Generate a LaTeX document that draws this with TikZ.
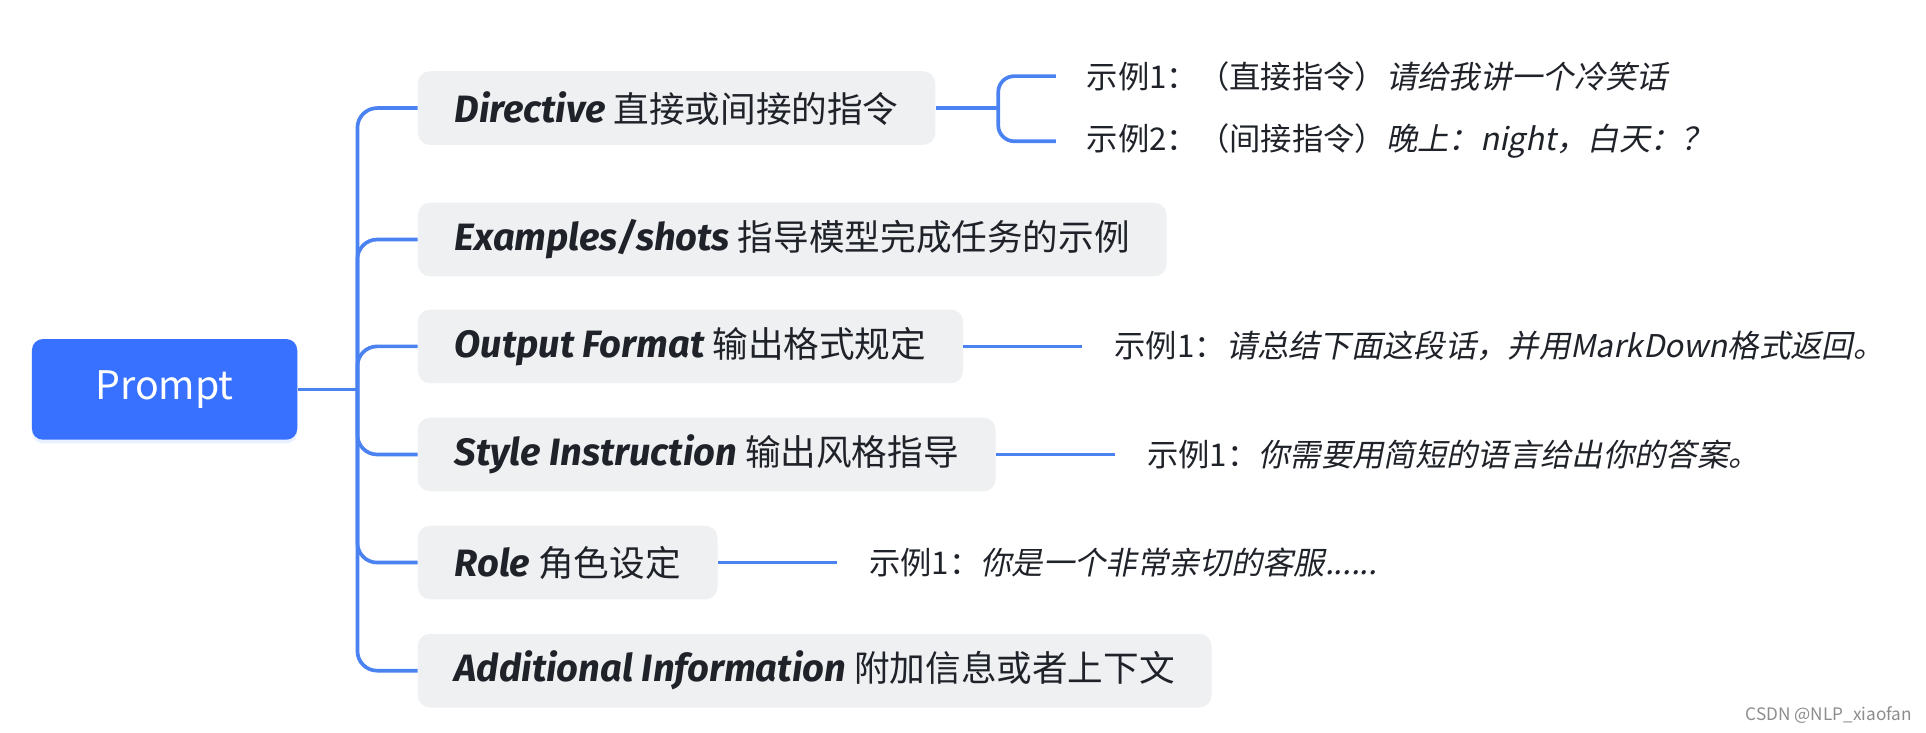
\documentclass[tikz,border=0pt]{standalone}
\usepackage{fontspec}
\setmainfont{Noto Sans CJK SC}
\newfontfamily\cjkit{Noto Sans CJK SC}[FakeSlant=0.2]
\newfontfamily\latbi{Fira Sans}[Scale=1.07]
\usetikzlibrary{calc,shadows}
\definecolor{pblue}{HTML}{3871FF}
\definecolor{cblue}{HTML}{4B82F1}
\definecolor{gfill}{HTML}{EFF0F2}
\definecolor{tdark}{HTML}{1F2329}
\newcommand{\lbl}[1]{{\latbi\bfseries\itshape #1}}
\tikzset{
  pbox/.style={fill=pblue, rounded corners=9pt, minimum width=216pt, minimum height=82pt,
    text=white, font=\fontsize{32}{38}\selectfont,
    drop shadow={opacity=0.18, fill=pblue!60, shadow xshift=0pt, shadow yshift=-3pt}},
  gbox/.style={fill=gfill, rounded corners=10pt, minimum height=60pt, inner xsep=30pt,
    anchor=west, text=tdark, font=\fontsize{29}{35}\selectfont},
  leaf/.style={anchor=west, inner xsep=0pt, text=tdark, font=\fontsize{25.5}{30}\selectfont},
  conn/.style={draw=cblue, line width=3pt},
  wmark/.style={anchor=east, text=black!45, font=\fontsize{14}{16}\selectfont}
}
\begin{document}
\begin{tikzpicture}[x=1pt,y=-1pt]
\useasboundingbox (0,0) rectangle (1568,596);
\node[pbox] (prompt) at (134,317) {Prompt};
\node[gbox] (d) at (340,88) {\lbl{Directive} 直接或间接的指令};
\node[gbox] (e) at (340,195) {\lbl{Examples/shots} 指导模型完成任务的示例};
\node[gbox] (o) at (340,282) {\lbl{Output Format} 输出格式规定};
\node[gbox] (s) at (340,370) {\lbl{Style Instruction} 输出风格指导};
\node[gbox] (r) at (340,458) {\lbl{Role} 角色设定};
\node[gbox] (a) at (340,546) {\lbl{Additional Information} 附加信息或者上下文};

\coordinate (fork) at (291,317);
\draw[conn] (prompt.east) -- (fork);
\foreach \n in {d,e,o,s,r,a}{
  \draw[conn, rounded corners=16pt] (fork) |- (\n.west);
}

\coordinate (dfork) at ($(d.east)+(51,0)$);
\node[leaf] (c1) at ($(d.east)+(123,-26)$) {示例1：（直接指令）{\cjkit 请给我讲一个冷笑话}};
\node[leaf] (c2) at ($(d.east)+(123,27)$) {示例2：（间接指令）{\cjkit 晚上：night，白天：？}};
\draw[conn] (d.east) -- (dfork);
\draw[conn, rounded corners=13pt] (dfork) |- ([xshift=-25pt]c1.west);
\draw[conn, rounded corners=13pt] (dfork) |- ([xshift=-25pt]c2.west);

\node[leaf] (o1) at ($(o.east)+(123,0)$) {示例1：{\cjkit 请总结下面这段话，并用MarkDown格式返回。}};
\draw[conn] (o.east) -- ([xshift=-26pt]o1.west);
\node[leaf] (s1) at ($(s.east)+(123,0)$) {示例1：{\cjkit 你需要用简短的语言给出你的答案。}};
\draw[conn] (s.east) -- ([xshift=-26pt]s1.west);
\node[leaf] (r1) at ($(r.east)+(123,0)$) {示例1：{\cjkit 你是一个非常亲切的客服......}};
\draw[conn] (r.east) -- ([xshift=-26pt]r1.west);

\node[wmark] (wm) at (1560,582) {CSDN @NLP\_xiaofan};
\end{tikzpicture}
\end{document}
